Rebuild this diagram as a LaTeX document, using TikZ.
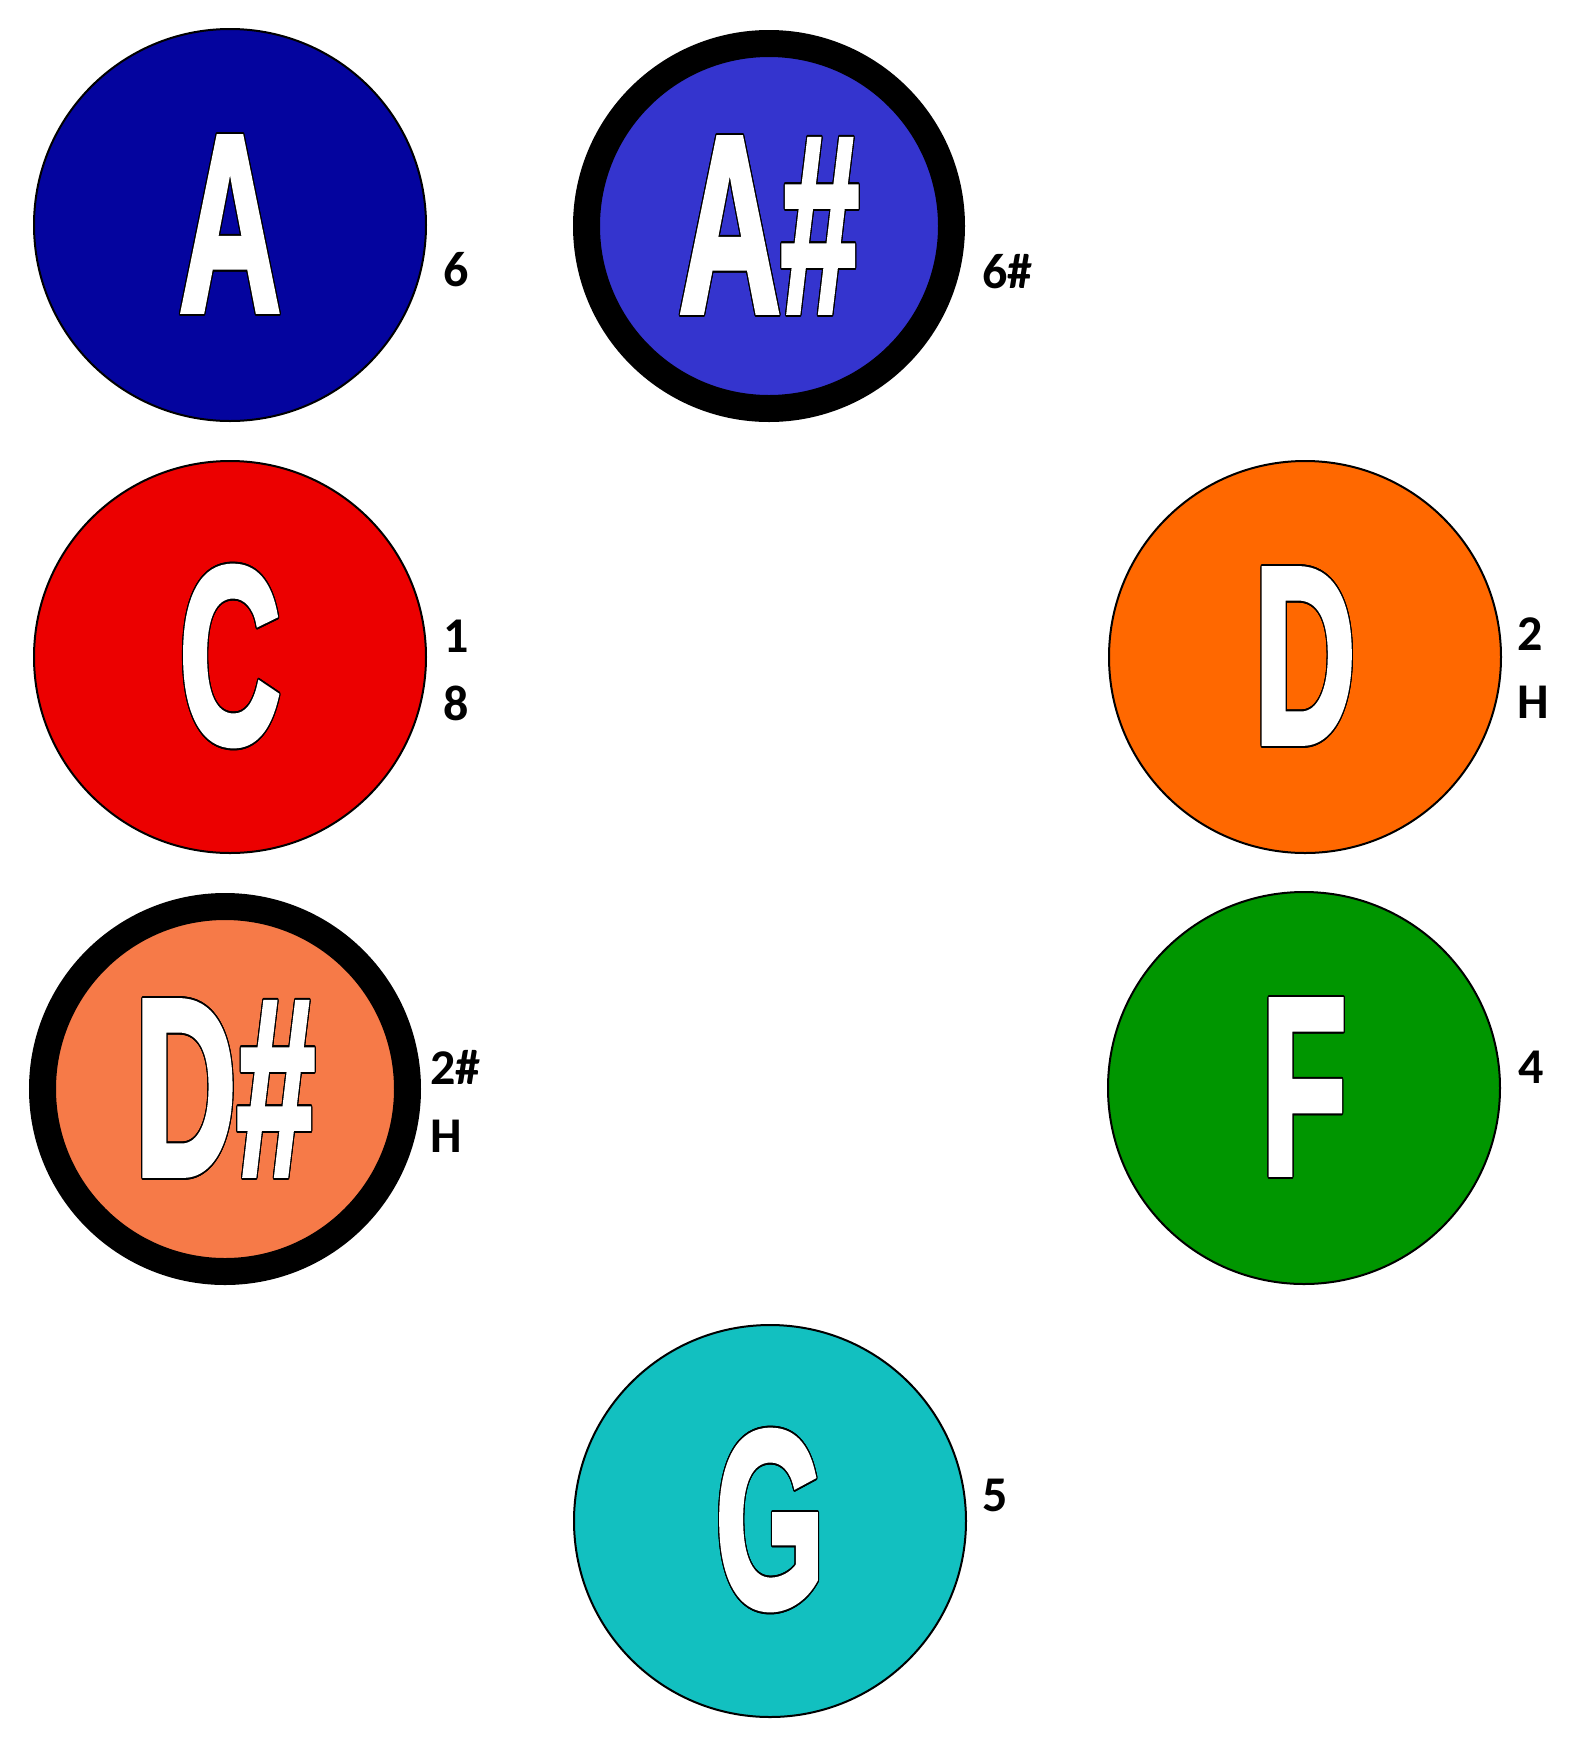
\documentclass[tikz,border=0pt]{standalone}
\usepackage{fontspec}
\usepackage{graphicx}
\usepackage{contour}
\setmainfont{Liberation Sans}
\newfontfamily\labfont{Carlito}
\newfontface\notefont[FakeBold=2.5]{Liberation Sans Bold}
\contourlength{1pt}
\definecolor{colA}{RGB}{4,4,158}
\definecolor{colAs}{RGB}{52,52,206}
\definecolor{colC}{RGB}{236,0,0}
\definecolor{colDs}{RGB}{246,122,72}
\definecolor{colD}{RGB}{255,104,0}
\definecolor{colF}{RGB}{0,150,0}
\definecolor{colG}{RGB}{18,192,192}
\newcommand{\notetext}[1]{\scalebox{0.56}[1]{\contour{black}{\textcolor{white}{#1}}}}
\tikzset{
  note/.style={circle, draw=black, line width=1pt, minimum size=196pt, inner sep=0pt,
    font=\notefont\fontsize{126}{130}\selectfont},
  sharpnote/.style={circle, draw=black, line width=13.5pt, minimum size=182.5pt, inner sep=0pt,
    font=\notefont\fontsize{126}{130}\selectfont},
  numlabel/.style={anchor=west, inner sep=0pt, align=left,
    font=\labfont\bfseries\fontsize{25}{34}\selectfont}
}
\begin{document}
\begin{tikzpicture}[x=0.5pt, y=-0.5pt]
\useasboundingbox (0,0) rectangle (1588,1741);
\node[note, fill=colA] (A) at (230,225) {\notetext{A}};
\node[sharpnote, fill=colAs] (As) at (769,226) {\notetext{A\#}};
\node[note, fill=colC] (C) at (230,657) {\notetext{C}};
\node[sharpnote, fill=colDs] (Ds) at (225,1089) {\notetext{D\#}};
\node[note, fill=colD] (D) at (1305,657) {\notetext{D}};
\node[note, fill=colF] (F) at (1304,1088) {\notetext{F}};
\node[note, fill=colG] (G) at (770,1521) {\notetext{G}};
\node[numlabel] (lA) at (443,270) {6};
\node[numlabel] (lAs) at (982,272) {6\#};
\node[numlabel] (lC) at (443,670) {1\\8};
\node[numlabel] (lDs) at (430,1101) {2\#\\H};
\node[numlabel] (lD) at (1517,668) {2\\H};
\node[numlabel] (lF) at (1518,1067) {4};
\node[numlabel] (lG) at (982,1495) {5};
\end{tikzpicture}
\end{document}
